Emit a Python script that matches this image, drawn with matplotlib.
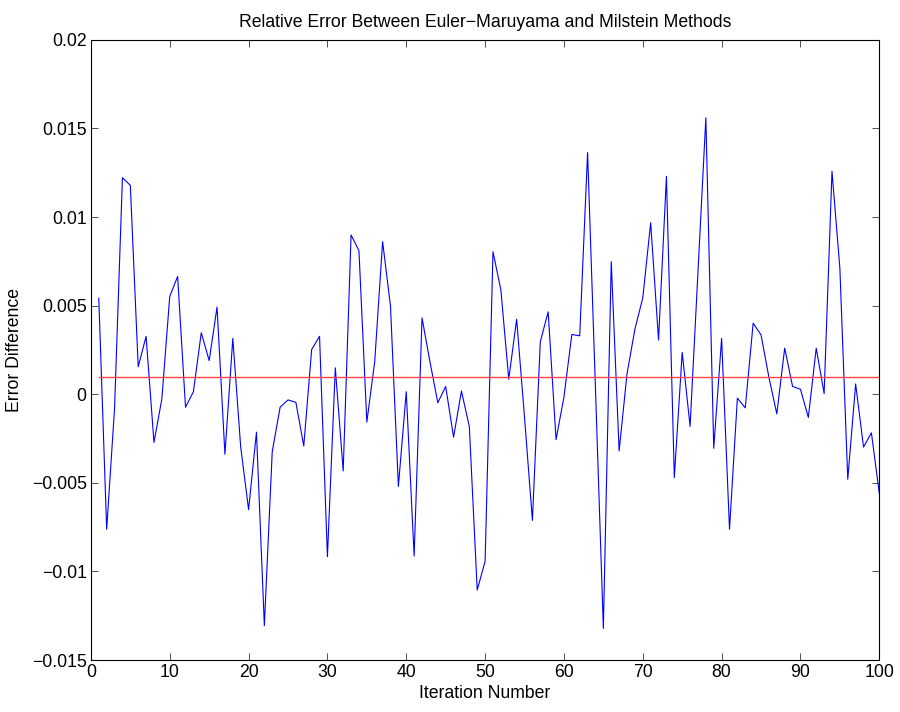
import numpy as np
import matplotlib
matplotlib.use("Agg")
import matplotlib.pyplot as plt
from matplotlib.ticker import FuncFormatter

plt.rcParams['font.family'] = ['Liberation Sans', 'DejaVu Sans']

# iteration index 1..100
iterations = np.arange(1, 101)

# error difference per iteration
error_diff = [
    0.00542, -0.00762, -0.0008, 0.01222, 0.01179, 0.00155, 0.00327, -0.00272, -0.00026, 0.00552,
    0.00665, -0.00073, 0.00014, 0.00347, 0.0019, 0.00492, -0.00339, 0.00315, -0.00298, -0.00651,
    -0.00214, -0.01306, -0.00325, -0.00073, -0.00032, -0.00046, -0.00292, 0.00252, 0.00327, -0.00917,
    0.00149, -0.00433, 0.00899, 0.0081, -0.00157, 0.00185, 0.00861, 0.00498, -0.0052, 0.00014,
    -0.00913, 0.00431, 0.00185, -0.00048, 0.00044, -0.00242, 0.00018, -0.00183, -0.01105, -0.00943,
    0.00804, 0.00589, 0.00085, 0.00423, -0.0013, -0.00712, 0.00296, 0.00465, -0.00256, -0.00016,
    0.00337, 0.0033, 0.01364, 0.0003, -0.01322, 0.00748, -0.0032, 0.00115, 0.00367, 0.00544,
    0.00968, 0.00306, 0.0123, -0.0047, 0.00236, -0.00181, 0.0069, 0.0156, -0.00305, 0.00315,
    -0.00762, -0.00022, -0.00077, 0.00401, 0.00335, 0.00095, -0.00111, 0.0026, 0.00044, 0.00028,
    -0.00131, 0.0026, 0.00004, 0.01258, 0.0071, -0.0048, 0.00058, -0.00298, -0.00218, -0.0056,
]

# reference level (red horizontal line)
ref_level = 0.001

x_ticks = [0, 10, 20, 30, 40, 50, 60, 70, 80, 90, 100]
y_ticks = [-0.015, -0.01, -0.005, 0, 0.005, 0.01, 0.015, 0.02]

fig = plt.figure(figsize=(9, 7.12), dpi=100)
ax = fig.add_axes([0.101, 0.073, 0.876, 0.871])

ax.plot(iterations, error_diff, color='#0000ff', lw=0.8)
ax.plot([iterations[0], iterations[-1]], [ref_level, ref_level], color='#ff4444', lw=1.0)

ax.set_xlim(0, 100)
ax.set_ylim(-0.015, 0.02)
ax.set_xticks(x_ticks)
ax.set_yticks(y_ticks)


def fmt(v, pos):
    s = '%g' % round(v, 6)
    return s.replace('-', '\u2212')


ax.yaxis.set_major_formatter(FuncFormatter(fmt))
ax.tick_params(direction='in', length=5, width=0.6, top=True, right=True,
               labelsize=12.7, pad=3, color='#333333')
for sp in ax.spines.values():
    sp.set_linewidth(0.8)

ax.set_xlabel('Iteration Number', fontsize=12.7, labelpad=3)
ax.set_ylabel('Error Difference', fontsize=12.7, labelpad=6)
ax.set_title('Relative Error Between Euler\u2212Maruyama and Milstein Methods', fontsize=12.7, pad=9)

fig.savefig('out.png', dpi=100)
